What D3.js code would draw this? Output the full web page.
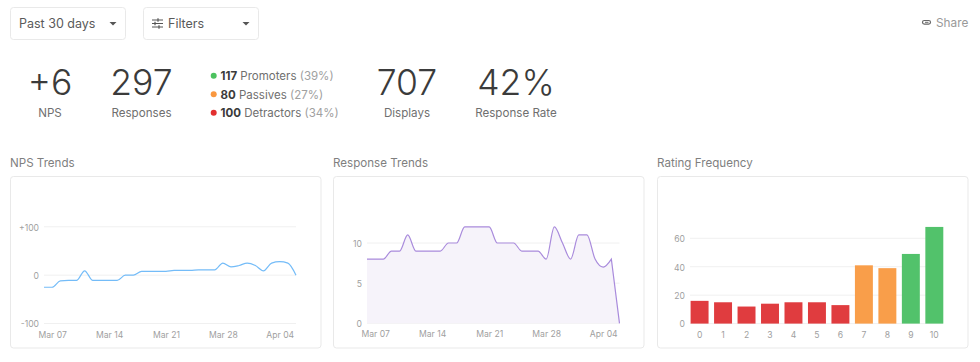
<!DOCTYPE html>
<html><head><meta charset="utf-8">
<script src="https://cdn.jsdelivr.net/npm/d3@7/dist/d3.min.js"></script>
<style>html,body{margin:0;padding:0;background:#fff;overflow:hidden}svg{display:block;font-family:Inter,"Noto Sans",sans-serif}</style>
</head><body><svg id="c" width="980" height="362"></svg>
<script>
const startDate = "2021-03-06";
const npsValues = [-25,-25,-12,-11,-11,9,-11,-11,-11,-11,0,0,8,8,8,8,10,10,10,11,11,11,25,17,20,25,20,9,25,28,25,0];
const responseValues = [8,8,8,9,9,11,9,9,9,9,10,10,12,12,12,12,10,10,10,9,9,9,8,12,10,8,11,11,8,7,8,0];
const ratingLabels = ["0","1","2","3","4","5","6","7","8","9","10"];
const ratingValues = [16,15,12,14,15,15,13,41,39,49,68];
const ratingGroups = ["d","d","d","d","d","d","d","p","p","g","g"];
const dateTicks = ["2021-03-07","2021-03-14","2021-03-21","2021-03-28","2021-04-04"];
const npsTicks = [-100,0,100];
const responseTicks = [0,5,10];
const ratingTicks = [0,20,40,60];
const chartTitles = ["NPS Trends","Response Trends","Rating Frequency"];
const segments = [["117"," Promoters ","(39%)"],["80"," Passives ","(27%)"],["100"," Detractors ","(34%)"]];
const stats = [["+6","NPS",50],["297","Responses",141.5],["707","Displays",407],["42%","Response Rate",516]];

const svg = d3.select("#c");
const dark="#3b3b3b", mid="#6f6f6f", light="#a0a0a0", grid="#f0f0f0", border="#e9e9e9";
const parse = d3.utcParse("%Y-%m-%d"), fmt = d3.utcFormat("%b %d");
const dates = npsValues.map((_,i)=>d3.utcDay.offset(parse(startDate),i));

function box(x,y,w,h){svg.append("rect").attr("x",x).attr("y",y).attr("width",w).attr("height",h).attr("rx",3).attr("fill","#fff").attr("stroke",border);}
function txt(x,y,s,size,fill,anchor,weight){return svg.append("text").attr("x",x).attr("y",y).text(s).attr("font-size",size).attr("fill",fill).attr("text-anchor",anchor||"start").attr("font-weight",weight||400);}
function caret(x,y){svg.append("path").attr("d",`M${x-3.5},${y-2}L${x+3.5},${y-2}L${x},${y+1.5}Z`).attr("fill","#555");}

box(10.5,7.5,115,32); txt(19,28,"Past 30 days",12.5,"#5a5a5a"); caret(113,24);
box(143.5,7.5,115,32); txt(168,28,"Filters",12.5,"#5a5a5a"); caret(246,24);
[20,23.5,27].forEach((y,i)=>{
  svg.append("line").attr("x1",152).attr("x2",163).attr("y1",y).attr("y2",y).attr("stroke","#555").attr("stroke-width",1);
  const k=[158,155,159][i];
  svg.append("line").attr("x1",k).attr("x2",k).attr("y1",y-1.7).attr("y2",y+1.7).attr("stroke","#555").attr("stroke-width",1.2);
});
svg.append("rect").attr("x",922.5).attr("y",20.5).attr("width",8).attr("height",3.6).attr("rx",1.8).attr("fill","none").attr("stroke","#666").attr("stroke-width",1.2);
svg.append("line").attr("x1",925).attr("x2",928.5).attr("y1",22.3).attr("y2",22.3).attr("stroke","#666").attr("stroke-width",1);
txt(936,27,"Share",11.8,"#999");

stats.forEach(d=>{ txt(d[2],94.5,d[0],35.5,dark,"middle",300); txt(d[2],117,d[1],11.6,mid,"middle"); });
const dots=["#4cc25f","#f9983f","#e22f2f"];
segments.forEach((s,i)=>{
  const y=[80,98.5,117][i];
  svg.append("circle").attr("cx",213.7).attr("cy",y-4.2).attr("r",3).attr("fill",dots[i]);
  const t=txt(220.5,y,"",11.5,mid);
  t.append("tspan").text(s[0]).attr("font-weight",700).attr("fill",dark);
  t.append("tspan").text(s[1]).attr("fill",mid);
  t.append("tspan").text(s[2]).attr("fill",light);
});

const cards=[[10.5,310.5],[333.5,310.5],[657.5,310.5]];
cards.forEach((c,i)=>{ txt(c[0]-0.5,167,chartTitles[i],11.6,"#7f7f7f"); box(c[0],176.5,c[1],171.5); });

function axisText(g){g.selectAll("text").attr("fill",light).attr("font-size",8.6).attr("font-family","Inter");g.select(".domain").remove();g.selectAll(".tick line").remove();}

function lineChart(values,x0,x1,yDomain,yRange,ticks,tickFmt,color,area,straightTail){
  const x=d3.scaleUtc().domain(d3.extent(dates)).range([x0,x1]);
  const y=d3.scaleLinear().domain(yDomain).range(yRange);
  svg.append("g").selectAll("line").data(ticks).join("line")
    .attr("x1",x0).attr("x2",x1).attr("y1",d=>y(d)).attr("y2",d=>y(d)).attr("stroke",grid);
  svg.append("g").attr("transform",`translate(${x0-3},0.6)`).call(d3.axisLeft(y).tickValues(ticks).tickSize(0).tickPadding(2).tickFormat(tickFmt)).call(axisText);
  svg.append("g").attr("transform",`translate(0,${yRange[0]+1})`)
    .call(d3.axisBottom(x).tickValues(dateTicks.map(parse)).tickSize(0).tickPadding(7).tickFormat(fmt)).call(axisText);
  const n=values.length;
  const body=straightTail?values.slice(0,n-1):values;
  const tail=straightTail?`L${x(dates[n-1])},${y(values[n-1])}`:"";
  const px=(d,i)=>x(dates[i]);
  const lineD=d3.line().x(px).y(d=>y(d)).curve(d3.curveMonotoneX)(body)+tail;
  if(area) svg.append("path").attr("fill",area).attr("d",lineD+`L${x0},${y(0)}Z`);
  svg.append("path").attr("fill","none").attr("stroke",color).attr("stroke-width",1.2).attr("d",lineD);
}
lineChart(npsValues,44,296,[-100,100],[323.5,226.8],npsTicks,d=>d>0?"+"+d:String(d),"#74bcf8",null,false);
lineChart(responseValues,367,619.5,[0,10],[323.3,243],responseTicks,d=>String(d),"#a98bdc","#f6f3fa",true);

const bx=d3.scaleBand().domain(ratingLabels).range([687.9,946]).paddingInner(.235).paddingOuter(.115);
const by=d3.scaleLinear().domain([0,60]).range([323.6,238.3]);
svg.append("g").selectAll("line").data(ratingTicks).join("line").attr("x1",690).attr("x2",943).attr("y1",d=>by(d)).attr("y2",d=>by(d)).attr("stroke",grid);
svg.append("g").attr("transform","translate(687,0.6)").call(d3.axisLeft(by).tickValues(ratingTicks).tickSize(0).tickPadding(2)).call(axisText);
svg.append("g").attr("transform","translate(0,324.5)").call(d3.axisBottom(bx).tickSize(0).tickPadding(7)).call(axisText);
const barColor={d:"#e03c3f",p:"#f99e4a",g:"#52c26b"};
svg.append("g").selectAll("rect").data(ratingValues).join("rect")
  .attr("x",(d,i)=>bx(ratingLabels[i])).attr("width",bx.bandwidth())
  .attr("y",d=>by(d)).attr("height",d=>by(0)-by(d)).attr("fill",(d,i)=>barColor[ratingGroups[i]]);
</script></body></html>
